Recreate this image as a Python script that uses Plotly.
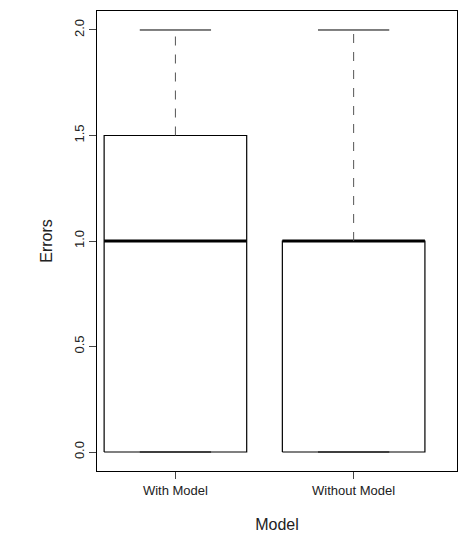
import plotly.graph_objects as go

categories = ["With Model", "Without Model"]
mins = [0, 0]
q1s = [0, 0]
medians = [1, 1]
q3s = [1.5, 1.0]
maxs = [2, 2]
yticks = [0.0, 0.5, 1.0, 1.5, 2.0]

fig = go.Figure()
hw = 0.4
cw = 0.2
for i, c in enumerate(categories):
    x = i + 1
    fig.add_trace(go.Scatter(x=[x-hw, x+hw, x+hw, x-hw, x-hw],
                             y=[q1s[i], q1s[i], q3s[i], q3s[i], q1s[i]],
                             mode="lines", line=dict(color="black", width=1.2),
                             showlegend=False, hoverinfo="skip"))
    fig.add_trace(go.Scatter(x=[x-hw, x+hw], y=[medians[i]]*2, mode="lines",
                             line=dict(color="black", width=3), showlegend=False))
    fig.add_trace(go.Scatter(x=[x, x, None, x, x], y=[q3s[i], maxs[i], None, q1s[i], mins[i]],
                             mode="lines", line=dict(color="#555", width=1, dash="dash"),
                             showlegend=False))
    fig.add_trace(go.Scatter(x=[x-cw, x+cw, None, x-cw, x+cw],
                             y=[maxs[i], maxs[i], None, mins[i], mins[i]],
                             mode="lines", line=dict(color="black", width=1), showlegend=False))

fig.update_layout(
    width=474, height=548, plot_bgcolor="white", paper_bgcolor="white",
    margin=dict(l=89, r=25, t=3, b=85),
    font=dict(family="Liberation Sans, Arial", size=13, color="#222"),
    xaxis=dict(range=[0.56, 2.58], tickvals=[1, 2], ticktext=categories,
               showgrid=False, zeroline=False, showline=True, mirror=True,
               linecolor="black", ticks="outside", ticklen=7,
               title=dict(text="Model", standoff=22)),
    yaxis=dict(range=[-0.09, 2.09], tickvals=yticks, ticktext=[f"{v:.1f}" for v in yticks],
               tickangle=-90, showgrid=False, zeroline=False, showline=True, mirror=True,
               linecolor="black", ticks="outside", ticklen=7,
               title=dict(text="Errors", standoff=15)),
)
fig.write_html("out.html")
